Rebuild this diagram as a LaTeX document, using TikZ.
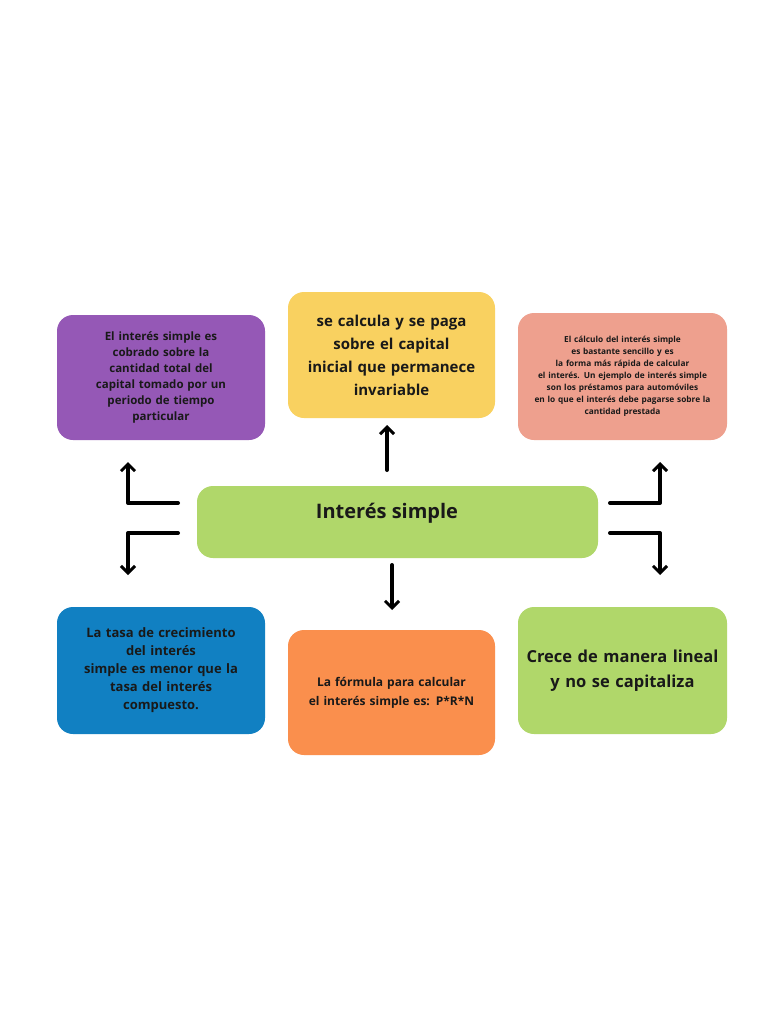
\documentclass[tikz,border=0pt]{standalone}
\usepackage{fontspec}
\setmainfont{Open Sans}
\usetikzlibrary{arrows.meta}
\definecolor{cpur}{HTML}{9558B6}
\definecolor{cyel}{HTML}{F9D160}
\definecolor{cpink}{HTML}{EEA08E}
\definecolor{cgreen}{HTML}{B0D76A}
\definecolor{cblue}{HTML}{1180C2}
\definecolor{corange}{HTML}{FA8F4D}
\begin{document}
\begin{tikzpicture}[x=1pt,y=-1pt,
  box/.style={align=center,inner sep=0pt,text=black!90},
  arr/.style={line width=4pt,-{Straight Barb[length=7pt,width=14pt,line width=3pt]},line cap=round,line join=round}]
\useasboundingbox (0,0) rectangle (768,1024);
\fill[white] (0,0) rectangle (768,1024);
\newcommand\bx[8]{\fill[#6,rounded corners=16pt] (#1,#2) rectangle (#3,#4);
  \node[box,text width=#3pt-#1pt-12pt,font=\bfseries#7] (#5) at ({(#1+#3)/2},{(#2+#4)/2}) {#8};}
\bx{57}{315}{265}{440}{pur}{cpur}{\fontsize{11.5}{16}\selectfont}{El interés simple es\\cobrado sobre la\\cantidad total del\\capital tomado por un\\periodo de tiempo\\particular}
\bx{288}{292}{495}{418}{yel}{cyel}{\fontsize{15}{23}\selectfont}{se calcula y se paga\\sobre el capital\\inicial que permanece\\invariable}
\bx{518}{313}{727}{440}{pink}{cpink}{\fontsize{8.3}{12}\selectfont}{El cálculo del interés simple\\es bastante sencillo y es\\la forma más rápida de calcular\\el interés. Un ejemplo de interés simple\\son los préstamos para automóviles\\en lo que el interés debe pagarse sobre la\\cantidad prestada}
\fill[cgreen,rounded corners=16pt] (197,486) rectangle (598,558);
\node[box,font=\bfseries\fontsize{20}{24}\selectfont] (cen) at (387,513) {Interés simple};
\bx{57}{607}{265}{734}{blue}{cblue}{\fontsize{13}{18}\selectfont}{La tasa de crecimiento\\del interés\\simple es menor que la\\tasa del interés\\compuesto.}
\bx{288}{630}{495}{755}{ora}{corange}{\fontsize{12}{19}\selectfont}{La fórmula para calcular\\el interés simple es: P*R*N}
\bx{518}{607}{727}{734}{grn}{cgreen}{\fontsize{16.5}{25}\selectfont}{Crece de manera lineal\\y no se capitaliza}
\coordinate (u0) at (387,470); \coordinate (u1) at (387,425);
\coordinate (d0) at (392,565); \coordinate (d1) at (392,610);
\coordinate (la) at (178,503); \coordinate (la1) at (128,462);
\coordinate (lb) at (178,533); \coordinate (lb1) at (128,575);
\coordinate (ra) at (610,503); \coordinate (ra1) at (660,462);
\coordinate (rb) at (610,533); \coordinate (rb1) at (660,575);
\draw[arr] (u0) -- (u1);
\draw[arr] (d0) -- (d1);
\draw[arr] (la) -| (la1);
\draw[arr] (lb) -| (lb1);
\draw[arr] (ra) -| (ra1);
\draw[arr] (rb) -| (rb1);
\end{tikzpicture}
\end{document}
